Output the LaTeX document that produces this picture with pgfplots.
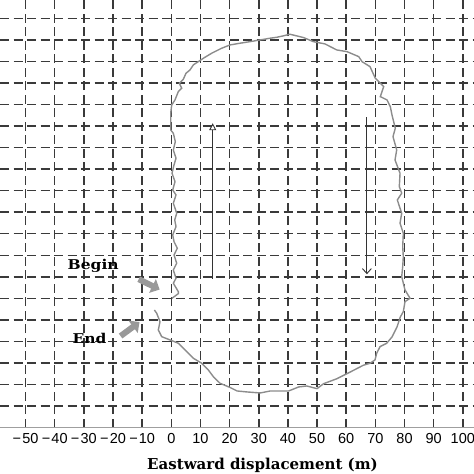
\documentclass[border=0pt]{standalone}
\usepackage{fontspec}
\setmainfont{DejaVu Serif}
\newfontfamily\tickfont{Liberation Sans}
\usepackage{pgfplots}
\pgfplotsset{compat=1.18}
\usetikzlibrary{arrows.meta}
\definecolor{gridc}{HTML}{3A3A3A}
\definecolor{pathc}{HTML}{8C8C8C}
\definecolor{blockc}{HTML}{999999}
\begin{document}
\begin{tikzpicture}
\begin{axis}[
  at={(0pt,46.4pt)}, anchor=south west,
  scale only axis, width=474pt, height=427.6pt,
  xmin=-58.77, xmax=103.84, ymin=-60, ymax=138.5,
  axis lines*=left,
  y axis line style={draw=none},
  x axis line style={draw=gray!75, line width=1.3pt},
  xtick={-50,-40,...,100},
  xticklabels={−\kern1.2pt50,−\kern1.2pt40,−\kern1.2pt30,−\kern1.2pt20,−\kern1.2pt10,0,10,20,30,40,50,60,70,80,90,100},
  ytick={-50,-40,...,130},
  yticklabels={},
  major tick length=0pt,
  grid=major,
  major grid style={draw=gridc, line width=1.5pt, dash pattern=on 9pt off 4.5pt},
  x tick label style={font=\tickfont\fontsize{14.5}{14.5}\selectfont, text=black, anchor=north, yshift=-2pt},
  xlabel={Eastward displacement (m)},
  xlabel style={at={(rel axis cs:0.5538,0)}, anchor=center, yshift=-37.3pt, font=\bfseries\fontsize{15}{15}\selectfont},
]
\addplot[pathc, line width=1.4pt, no markers] coordinates {
(0.2,0) (2.40,2.18) (2.40,3.11) (0.69,7.01) (1.61,9.33) (0.69,13.18) (1.85,16.30)
(0.93,20.15) (2.06,23.26) (0.93,26.32) (0.48,29.43) (1.61,33.29) (1.17,36.40)
(1.85,39.51) (0.69,44.15) (1.61,48.00) (0.48,50.32) (1.27,54.18) (0.24,58.08)
(0.93,61.93) (1.61,65.04) (0.69,68.89) (1.37,72.75) (0.69,76.65) (-0.21,78.18)
(-0.21,85.93) (0.14,89.79) (1.27,92.11) (2.40,95.96) (3.57,97.54) (2.74,99.86)
(4.12,101.72) (5.04,104.50) (6.42,106.04) (7.55,108.36) (9.26,109.89) (11.56,111.93)
(13.86,113.79) (17.29,116.11) (20.14,117.64) (23.57,118.43) (27.0,119.17)
(30.43,119.96) (33.87,120.75) (36.26,121.22) (38.32,121.82) (40.72,122.61)
(45.42,121.03) (48.71,119.17) (52.73,118.11) (56.74,115.32) (60.27,114.53)
(64.29,112.21) (65.42,109.89) (68.16,107.57) (69.98,102.18) (72.86,98.28)
(71.70,93.64) (74.0,92.11) (75.13,89.0) (75.71,85.14) (76.84,78.97) (76.05,75.07)
(77.32,68.89) (76.74,64.25) (78.46,58.08) (78.22,51.86) (79.04,48.79) (77.53,45.68)
(79.04,39.51) (78.46,34.87) (79.59,30.22) (79.38,24.0) (79.59,19.36) (79.38,14.72)
(79.04,10.07) (80.17,3.90) (81.89,0.05) (80.17,-1.53) (79.59,-6.17) (78.56,-8.64)
(77.43,-13.28) (75.71,-17.92) (73.89,-20.84) (71.60,-22.42) (70.46,-25.49)
(69.88,-28.60) (68.16,-30.13) (65.87,-31.06) (61.41,-34.17) (56.84,-37.28)
(52.28,-39.60) (49.98,-41.92) (46.45,-40.67) (43.71,-41.13) (40.27,-42.99)
(33.96,-42.99) (30.53,-43.92) (25.97,-43.45) (22.54,-42.99) (20.14,-41.36)
(16.71,-39.42) (14.41,-36.35) (12.69,-33.24) (10.43,-30.13) (7.55,-27.81)
(5.83,-25.49) (4.12,-23.17) (2.40,-20.84) (-0.45,-19.31) (-3.29,-17.78)
(-4.46,-14.67) (-3.88,-10.82) (-5.01,-6.92) (-5.83,-5.39)
};
% direction arrows
\addplot[black!80, line width=0.9pt, no markers, -{Triangle[open, length=7pt, width=7pt]}] coordinates {(14.2,9.2) (14.2,81.3)};
\addplot[black!80, line width=0.9pt, no markers, -{Straight Barb[length=5pt, width=9pt]}] coordinates {(67.1,84.1) (67.1,11.2)};
% begin / end block arrows
\addplot[blockc, line width=6pt, no markers, -{Triangle[length=8pt, width=15pt]}] coordinates {(-11.2,8.9) (-4.0,4.1)};
\addplot[blockc, line width=6pt, no markers, -{Triangle[length=8pt, width=15pt]}] coordinates {(-17.4,-17.5) (-10.9,-11.0)};
\node[font=\bfseries\fontsize{13.5}{13.5}\selectfont, xscale=1.15] at (axis cs:-26.8,15.0) {Begin};
\node[font=\bfseries\fontsize{13.5}{13.5}\selectfont, xscale=1.15] at (axis cs:-28.06,-18.85) {End};
\end{axis}
\pgfresetboundingbox
\path[use as bounding box] (0,0) rectangle (474pt,474pt);
\end{tikzpicture}
\end{document}
